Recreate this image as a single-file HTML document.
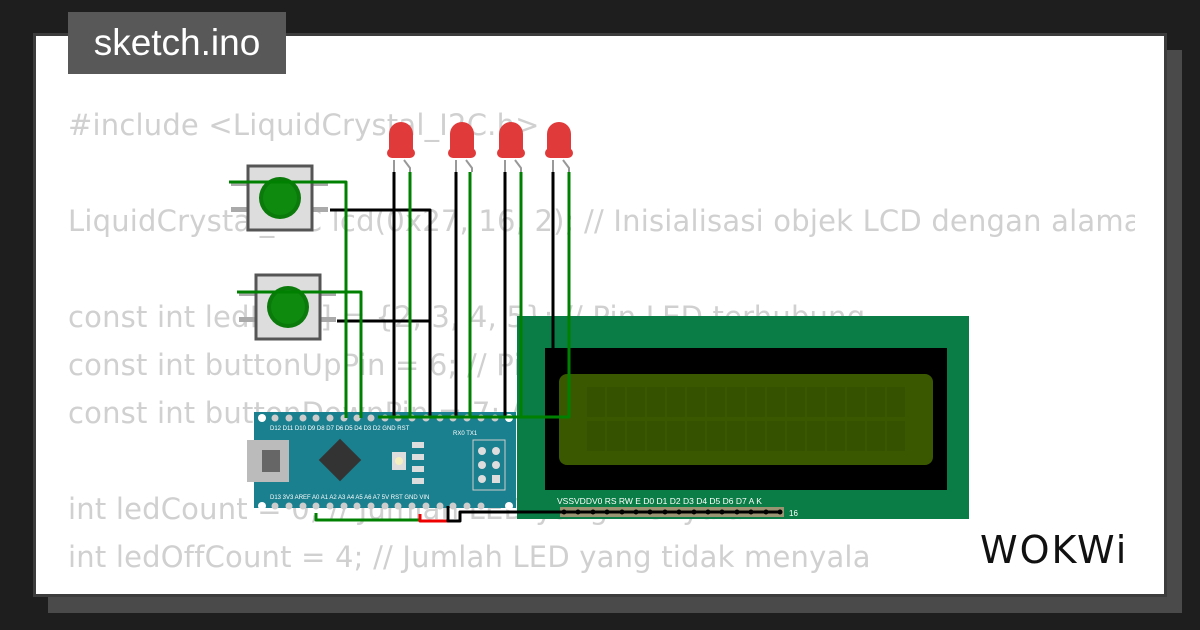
<!DOCTYPE html>
<html><head><meta charset="utf-8"><style>
html,body{margin:0;padding:0;width:1200px;height:630px;overflow:hidden;background:#1e1e1e;font-family:"Liberation Sans",sans-serif}
.sh{position:absolute;left:48px;top:50px;width:1134px;height:563px;background:#4a4a4a}
.card{position:absolute;left:33px;top:33px;width:1128px;height:558px;background:#fff;border:3px solid #3c3c3c;overflow:hidden}
.code{position:absolute;left:32px;top:65px;width:1067px;overflow:hidden;white-space:pre;color:#d0d0d0;font-size:29px;line-height:48px;font-family:"DejaVu Sans","Liberation Sans",sans-serif;letter-spacing:0.2px}
.tag{position:absolute;left:68px;top:12px;width:218px;height:62px;background:#585858;color:#fff;font-size:37px;line-height:62px;text-align:center}
svg{position:absolute;left:0;top:0}
</style></head><body>
<div class="sh"></div>
<div class="card"><div class="code">#include &lt;LiquidCrystal_I2C.h&gt;

LiquidCrystal_I2C lcd(0x27, 16, 2); // Inisialisasi objek LCD dengan alamat

const int ledPins[] = {2, 3, 4, 5}; // Pin LED terhubung
const int buttonUpPin = 6; // Pin tombol naik terhubung
const int buttonDownPin = 7; // Pin tombol turun terhubung

int ledCount = 0; // Jumlah LED yang menyala
int ledOffCount = 4; // Jumlah LED yang tidak menyala</div></div>
<div class="tag">sketch.ino</div>
<svg width="1200" height="630" viewBox="0 0 1200 630">
<!-- LCD -->
<rect x="517" y="316" width="452" height="203" fill="#0a7c45"/>
<rect x="545" y="348" width="402" height="142" fill="#000"/>
<rect x="559" y="374" width="374" height="91" rx="8" fill="#3a5800"/>
<g fill="#355200">
<rect x="587" y="387" width="18" height="30"/><rect x="607" y="387" width="18" height="30"/><rect x="627" y="387" width="18" height="30"/><rect x="647" y="387" width="18" height="30"/><rect x="667" y="387" width="18" height="30"/><rect x="687" y="387" width="18" height="30"/><rect x="707" y="387" width="18" height="30"/><rect x="727" y="387" width="18" height="30"/><rect x="747" y="387" width="18" height="30"/><rect x="767" y="387" width="18" height="30"/><rect x="787" y="387" width="18" height="30"/><rect x="807" y="387" width="18" height="30"/><rect x="827" y="387" width="18" height="30"/><rect x="847" y="387" width="18" height="30"/><rect x="867" y="387" width="18" height="30"/><rect x="887" y="387" width="18" height="30"/>
<rect x="587" y="421" width="18" height="30"/><rect x="607" y="421" width="18" height="30"/><rect x="627" y="421" width="18" height="30"/><rect x="647" y="421" width="18" height="30"/><rect x="667" y="421" width="18" height="30"/><rect x="687" y="421" width="18" height="30"/><rect x="707" y="421" width="18" height="30"/><rect x="727" y="421" width="18" height="30"/><rect x="747" y="421" width="18" height="30"/><rect x="767" y="421" width="18" height="30"/><rect x="787" y="421" width="18" height="30"/><rect x="807" y="421" width="18" height="30"/><rect x="827" y="421" width="18" height="30"/><rect x="847" y="421" width="18" height="30"/><rect x="867" y="421" width="18" height="30"/><rect x="887" y="421" width="18" height="30"/>
</g>
<text x="557" y="504" fill="#fff" font-size="8.5" font-family="Liberation Sans">VSSVDDV0 RS  RW  E   D0 D1 D2 D3 D4 D5 D6 D7  A    K</text>
<g fill="#9a9472"><rect x="560" y="507" width="224" height="10"/></g>
<g fill="#000"><circle cx="564" cy="512" r="2.5"/><circle cx="578" cy="512" r="2.5"/><circle cx="593" cy="512" r="2.5"/><circle cx="607" cy="512" r="2.5"/><circle cx="622" cy="512" r="2.5"/><circle cx="636" cy="512" r="2.5"/><circle cx="650" cy="512" r="2.5"/><circle cx="665" cy="512" r="2.5"/><circle cx="679" cy="512" r="2.5"/><circle cx="694" cy="512" r="2.5"/><circle cx="708" cy="512" r="2.5"/><circle cx="722" cy="512" r="2.5"/><circle cx="737" cy="512" r="2.5"/><circle cx="751" cy="512" r="2.5"/><circle cx="766" cy="512" r="2.5"/><circle cx="780" cy="512" r="2.5"/></g>
<text x="789" y="516" fill="#fff" font-size="8">16</text>
<!-- Nano -->
<rect x="254" y="412" width="262" height="96" fill="#1a7f8e"/>
<rect x="247" y="440" width="42" height="42" fill="#bbb"/>
<rect x="262" y="450" width="18" height="22" fill="#666"/>
<rect x="325" y="445" width="30" height="30" fill="#333" transform="rotate(45 340 460)"/>
<rect x="392" y="452" width="14" height="18" fill="#ddd"/><circle cx="399" cy="461" r="4" fill="#f3efc0"/>
<g fill="#ddd"><rect x="412" y="442" width="12" height="6"/><rect x="412" y="454" width="12" height="6"/><rect x="412" y="466" width="12" height="6"/><rect x="412" y="478" width="12" height="6"/></g>
<rect x="473" y="440" width="32" height="50" fill="none" stroke="#ccc"/>
<g fill="#ddd"><circle cx="482" cy="451" r="4"/><circle cx="496" cy="451" r="4"/><circle cx="482" cy="465" r="4"/><circle cx="496" cy="465" r="4"/><circle cx="482" cy="479" r="4"/><rect x="492" y="475" width="8" height="8"/></g>
<g fill="#ccc"><circle cx="262" cy="418" r="4" fill="#fff"/><circle cx="275" cy="418" r="3.5"/><circle cx="289" cy="418" r="3.5"/><circle cx="303" cy="418" r="3.5"/><circle cx="316" cy="418" r="3.5"/><circle cx="330" cy="418" r="3.5"/><circle cx="344" cy="418" r="3.5"/><circle cx="357" cy="418" r="3.5"/><circle cx="371" cy="418" r="3.5"/><circle cx="385" cy="418" r="3.5"/><circle cx="398" cy="418" r="3.5"/><circle cx="412" cy="418" r="3.5"/><circle cx="426" cy="418" r="3.5"/><circle cx="440" cy="418" r="3.5"/><circle cx="453" cy="418" r="3.5"/><circle cx="467" cy="418" r="3.5"/><circle cx="481" cy="418" r="3.5"/><circle cx="495" cy="418" r="3.5"/><circle cx="509" cy="418" r="4" fill="#fff"/>
<circle cx="262" cy="506" r="4" fill="#fff"/><circle cx="275" cy="506" r="3.5"/><circle cx="289" cy="506" r="3.5"/><circle cx="303" cy="506" r="3.5"/><circle cx="316" cy="506" r="3.5"/><circle cx="330" cy="506" r="3.5"/><circle cx="344" cy="506" r="3.5"/><circle cx="357" cy="506" r="3.5"/><circle cx="371" cy="506" r="3.5"/><circle cx="385" cy="506" r="3.5"/><circle cx="398" cy="506" r="3.5"/><circle cx="412" cy="506" r="3.5"/><circle cx="426" cy="506" r="3.5"/><circle cx="440" cy="506" r="3.5"/><circle cx="453" cy="506" r="3.5"/><circle cx="467" cy="506" r="3.5"/><circle cx="481" cy="506" r="3.5"/><circle cx="509" cy="506" r="4" fill="#fff"/></g>
<text x="270" y="430" fill="#fff" font-size="6" font-family="Liberation Sans">D12 D11 D10 D9  D8  D7  D6  D5  D4  D3  D2 GND RST</text>
<text x="453" y="435" fill="#fff" font-size="6">RX0 TX1</text>
<text x="270" y="499" fill="#fff" font-size="6">D13 3V3 AREF A0  A1  A2  A3  A4  A5  A6  A7  5V  RST GND VIN</text>
<!-- buttons -->
<g>
<rect x="231" y="181" width="20" height="5" fill="#aaa"/><rect x="231" y="207" width="20" height="5" fill="#aaa"/><rect x="310" y="181" width="18" height="5" fill="#aaa"/><rect x="310" y="207" width="18" height="5" fill="#aaa"/>
<rect x="248" y="166" width="64" height="64" fill="#ddd" stroke="#555" stroke-width="3"/>
<circle cx="280" cy="198" r="21" fill="#0a7a0a"/><circle cx="280" cy="198" r="17" fill="#0e8a0e"/>
<rect x="239" y="291" width="20" height="5" fill="#aaa"/><rect x="239" y="317" width="20" height="5" fill="#aaa"/><rect x="318" y="291" width="18" height="5" fill="#aaa"/><rect x="318" y="317" width="18" height="5" fill="#aaa"/>
<rect x="256" y="275" width="64" height="64" fill="#ddd" stroke="#555" stroke-width="3"/>
<circle cx="288" cy="307" r="21" fill="#0a7a0a"/><circle cx="288" cy="307" r="17" fill="#0e8a0e"/>
</g>
<!-- LEDs -->
<g fill="#e03a3a">
<path d="M389,152 v-18 a12,12 0 0 1 24,0 v18 z"/><rect x="387" y="148" width="28" height="10" rx="5"/>
<path d="M450,152 v-18 a12,12 0 0 1 24,0 v18 z"/><rect x="448" y="148" width="28" height="10" rx="5"/>
<path d="M499,152 v-18 a12,12 0 0 1 24,0 v18 z"/><rect x="497" y="148" width="28" height="10" rx="5"/>
<path d="M547,152 v-18 a12,12 0 0 1 24,0 v18 z"/><rect x="545" y="148" width="28" height="10" rx="5"/>
</g>
<g stroke="#999" stroke-width="2" fill="none"><path d="M394,160v12M404,160l6,8v4M456,160v12M466,160l6,8v4M505,160v12M515,160l6,8v4M553,160v12M563,160l6,8v4"/></g>
<!-- wires -->
<g fill="none" stroke-width="3" stroke-linejoin="round">
<path d="M394,172V416M456,172V416M505,172V416M553,172V348" stroke="#000"/>
<path d="M330,210H430V416M337,321H430V416" stroke="#000"/>
<path d="M229,182H346V418M237,292H361V418" stroke="#008000"/>
<path d="M410,172V417M470,172V417M521,172V417M569,172V417H378" stroke="#008000"/>
<path d="M316,513V520H420" stroke="#008000"/>
<path d="M420,514V521H448" stroke="#e00"/>
<path d="M448,506V521H460V512H781" stroke="#000"/>
</g>
<!-- logo -->
<text x="980" y="563" font-size="38" font-family="DejaVu Sans" fill="#111" letter-spacing="2">WOKWi</text>
</svg>
</body></html>
